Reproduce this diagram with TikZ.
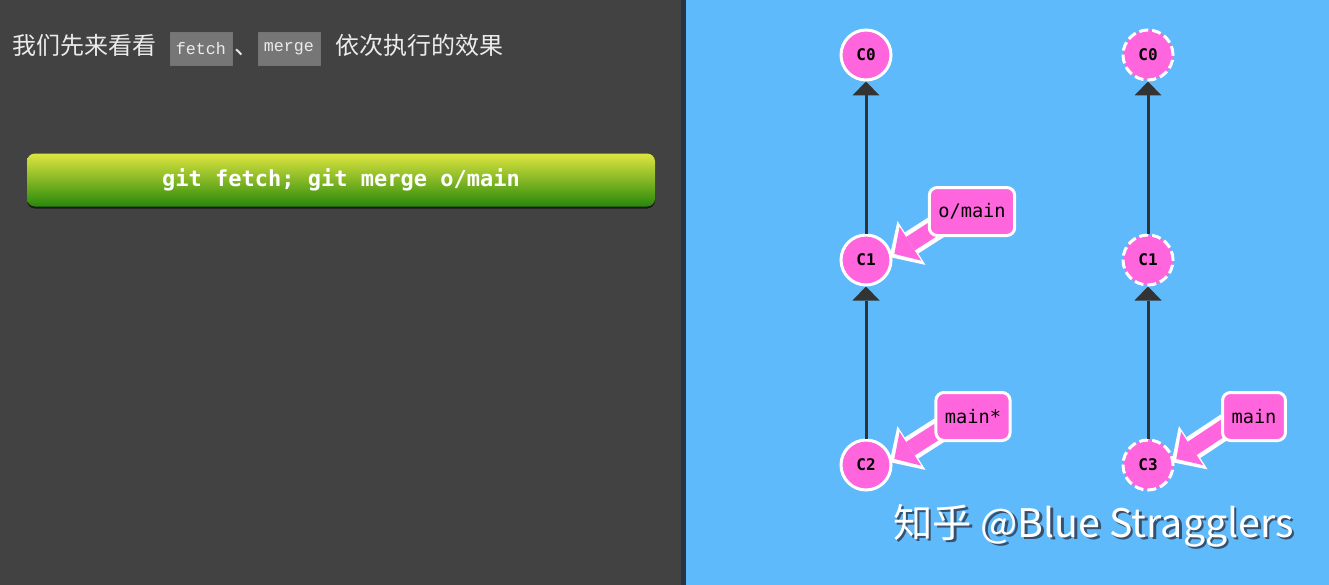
\documentclass[tikz,border=0pt]{standalone}
\usepackage{fontspec}
\setmonofont{DejaVu Sans Mono}
\newfontfamily\cjk{Noto Sans CJK SC}
\newfontfamily\typefont{Liberation Mono}
\usetikzlibrary{arrows.meta,shadows}
\newlength\pxu \setlength\pxu{0.75pt}

\definecolor{panelgray}{RGB}{66,66,66}
\definecolor{seam}{RGB}{40,52,66}
\definecolor{skyblue}{RGB}{94,186,250}
\definecolor{commitpink}{RGB}{255,102,221}
\definecolor{edgegray}{RGB}{51,51,51}
\definecolor{codegray}{RGB}{118,118,118}
\definecolor{btntop}{RGB}{222,230,64}
\definecolor{btnmid}{RGB}{128,188,24}
\definecolor{btnbot}{RGB}{40,136,10}
\definecolor{markshade}{RGB}{55,80,110}

% arrow tips in pt (1px = 0.75pt)
\tikzset{
  commit/.style={circle, fill=commitpink, draw=white, line width=3\pxu, minimum size=50\pxu, inner sep=0pt, font=\ttfamily\bfseries\fontsize{12}{12}\selectfont},
  ghost/.style={commit, dash pattern=on 9\pxu off 4\pxu},
  branch/.style={rectangle, rounded corners=8\pxu, fill=commitpink, draw=white, line width=3\pxu, minimum height=48\pxu, inner xsep=9\pxu, font=\ttfamily\fontsize{14}{14}\selectfont},
  parent/.style={edgegray, line width=3\pxu, -{Triangle[width=20.25pt,length=10.5pt,line width=0pt]}},
  ptrout/.style={white, line width=25\pxu, -{Triangle[width=39pt,length=19.5pt,line width=0pt]}, shorten >=-2.25pt},
  ptrin/.style={commitpink, line width=16\pxu, -{Triangle[width=30pt,length=14.25pt,line width=0pt]}, shorten >=2pt},
  codebox/.style={fill=codegray, draw=black!55, line width=0.8\pxu, minimum width=62\pxu, minimum height=33\pxu, inner sep=0pt, text=white!92!black, font=\typefont\fontsize{12.5}{12.5}\selectfont},
  zhtext/.style={anchor=base west, inner sep=0pt, text=white!92!black, font=\cjk\fontsize{18}{18}\selectfont},
  button/.style={rounded corners=8\pxu, minimum width=628\pxu, minimum height=53\pxu, top color=btntop, middle color=btnmid, bottom color=btnbot, text=white, font=\ttfamily\bfseries\fontsize{16.5}{16.5}\selectfont, drop shadow={shadow xshift=0pt, shadow yshift=-1.5pt, fill=black, opacity=0.6}},
  watermark/.style={anchor=base west, inner sep=0pt, font=\cjk\fontsize{29.5}{29.5}\selectfont},
}

\begin{document}
\begin{tikzpicture}[x=0.75pt, y=-0.75pt]
  \useasboundingbox (0,0) rectangle (1329,585);
  % panels
  \fill[panelgray] (0,0) rectangle (681,585);
  \fill[seam] (681,0) rectangle (686,585);
  \fill[skyblue] (686,0) rectangle (1329,585);

  % intro line
  \node[zhtext] (intro) at (12,55) {我们先来看看};
  \node[codebox] (fetch) at (201,48.5) {fetch};
  \node[zhtext] (comma) at (234,55) {、};
  \node[codebox] (merge) at (289,48.5) {merge};
  \node[zhtext] (rest) at (335,55) {依次执行的效果};

  % command
  \node[button] (cmd) at (341,180) {git fetch; git merge o/main};

  % before
  \node[commit] (c0) at (866,55) {C0};
  \node[commit] (c1) at (866,260) {C1};
  \node[commit] (c2) at (866,465) {C2};
  \draw[parent] (c1) -- (c0);
  \draw[parent] (c2) -- (c1);

  % after
  \node[ghost] (d0) at (1148,55) {C0};
  \node[ghost] (d1) at (1148,260) {C1};
  \node[ghost] (d3) at (1148,465) {C3};
  \draw[parent] (d1) -- (d0);
  \draw[parent] (d3) -- (d1);

  % branch pointers
  \coordinate (remotetail) at (949,219);
  \coordinate (maintail) at (949,424);
  \coordinate (newmaintail) at (1232,422);
  \draw[ptrout] (remotetail) -- (c1.10);
  \draw[ptrin] (remotetail) -- (c1.10);
  \draw[ptrout] (maintail) -- (c2.10);
  \draw[ptrin] (maintail) -- (c2.10);
  \draw[ptrout] (newmaintail) -- (d3.10);
  \draw[ptrin] (newmaintail) -- (d3.10);
  \node[branch] (remote) at (972,211.5) {o/main};
  \node[branch] (main) at (973,416.5) {main*};
  \node[branch] (newmain) at (1254,416.5) {main};

  % watermark
  \node[watermark, text=markshade] (markshadow) at (895.5,539.5) {知乎 @Blue Stragglers};
  \node[watermark, text=white] (marktext) at (893,537) {知乎 @Blue Stragglers};
\end{tikzpicture}
\end{document}
